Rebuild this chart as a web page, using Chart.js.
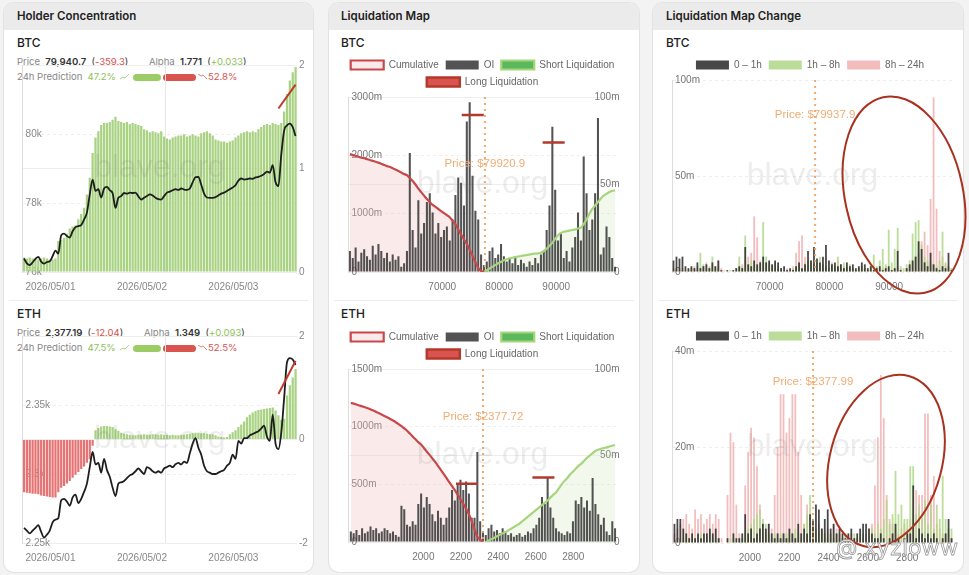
<!DOCTYPE html>
<html>
<head>
<meta charset="utf-8">
<title>Holder Concentration / Liquidation Map</title>
<script src="https://cdn.jsdelivr.net/npm/chart.js@4.4.1/dist/chart.umd.min.js"></script>
<style>
  html, body { margin: 0; padding: 0; }
  body { width: 969px; height: 575px; background: #f3f3f3; position: relative; overflow: hidden;
         font-family: Inter, "Liberation Sans", Arial, sans-serif; color: #222; }
  .card { position: absolute; top: 3px; height: 569px; background: #fff; border-radius: 10px; box-shadow: 0 0 0 1px #e3e3e3; }
  .hd { height: 27px; line-height: 27px; background: #ebebeb; border-radius: 10px 10px 0 0; font-size: 11.5px; font-weight: 600; padding-left: 13px; }
  .sep { position: absolute; left: 5px; right: 5px; top: 297px; height: 1px; background: #ececec; }
  .coin { position: absolute; font-size: 12px; font-weight: 500; line-height: 14px; }
  .tx { position: absolute; font-size: 9.6px; line-height: 12px; white-space: nowrap; color: #888; letter-spacing: -0.05px; }
  .dk { color: #333; font-weight: 600; }
  .br { color: #333; }
  .up { color: #8fc25a; }
  .dn { color: #d9534f; }
  .pill { position: absolute; height: 7px; border-radius: 4px; }
  canvas { position: absolute; }
  .tag { position: absolute; left: 836px; top: 534px; font-size: 22px; color: #fff; -webkit-text-stroke: 0.8px #9a9a9a; letter-spacing: 0.5px; }
</style>
</head>
<body>

<div class="card" style="left:4px;width:309px"><div class="hd">Holder Concentration</div><div class="sep"></div></div>
<div class="card" style="left:329px;width:310px"><div class="hd" style="padding-left:12px">Liquidation Map</div><div class="sep"></div></div>
<div class="card" style="left:653px;width:310px"><div class="hd">Liquidation Map Change</div><div class="sep"></div></div>

<div class="coin" style="left:17px;top:36px">BTC</div>
<div class="tx" style="left:17px;top:56px">Price&nbsp; <span class="dk">79,940.7</span>&nbsp; <span class="br">(<span class="dn">-359.3</span>)</span></div>
<div class="tx" style="left:149px;top:56px">Alpha&nbsp; <span class="dk">1.771</span>&nbsp; <span class="br">(<span class="up">+0.033</span>)</span></div>
<div class="tx" style="left:17px;top:71px">24h Prediction&nbsp; <span class="up">47.2%</span></div>
<svg style="position:absolute;left:120px;top:74px" width="9" height="6"><polyline points="0,5 3,3 5,4 9,0" fill="none" stroke="#a9d283" stroke-width="1"/></svg>
<div class="pill" style="left:133px;top:74px;width:28px;background:#9ccc65"></div>
<div class="pill" style="left:163px;top:74px;width:33px;background:#d9534f"></div>
<svg style="position:absolute;left:198px;top:74px" width="9" height="6"><polyline points="0,0 3,2 5,1 9,5" fill="none" stroke="#e08080" stroke-width="1"/></svg>
<div class="tx dn" style="left:208px;top:71px">52.8%</div>

<div class="coin" style="left:17px;top:307px">ETH</div>
<div class="tx" style="left:17px;top:327px">Price&nbsp; <span class="dk">2,377.19</span>&nbsp; <span class="br">(<span class="dn">-12.04</span>)</span></div>
<div class="tx" style="left:144px;top:327px">Alpha&nbsp; <span class="dk">1.349</span>&nbsp; <span class="br">(<span class="up">+0.093</span>)</span></div>
<div class="tx" style="left:17px;top:342px">24h Prediction&nbsp; <span class="up">47.5%</span></div>
<svg style="position:absolute;left:120px;top:345px" width="9" height="6"><polyline points="0,5 3,3 5,4 9,0" fill="none" stroke="#a9d283" stroke-width="1"/></svg>
<div class="pill" style="left:133px;top:345px;width:28px;background:#9ccc65"></div>
<div class="pill" style="left:163px;top:345px;width:33px;background:#d9534f"></div>
<svg style="position:absolute;left:198px;top:345px" width="9" height="6"><polyline points="0,0 3,2 5,1 9,5" fill="none" stroke="#e08080" stroke-width="1"/></svg>
<div class="tx dn" style="left:208px;top:342px">52.5%</div>

<div class="coin" style="left:341px;top:36px">BTC</div>
<div class="coin" style="left:341px;top:307px">ETH</div>
<div class="coin" style="left:666px;top:36px">BTC</div>
<div class="coin" style="left:666px;top:307px">ETH</div>

<canvas id="hcBtc" width="295" height="240" style="left:15px;top:56px"></canvas>
<canvas id="hcEth" width="295" height="240" style="left:15px;top:327px"></canvas>
<canvas id="lmBtc" width="295" height="243" style="left:335px;top:53px"></canvas>
<canvas id="lmEth" width="295" height="241" style="left:335px;top:325px"></canvas>
<canvas id="lcBtc" width="292" height="243" style="left:667px;top:53px"></canvas>
<canvas id="lcEth" width="292" height="242" style="left:667px;top:324px"></canvas>

<svg width="969" height="575" style="position:absolute;left:0;top:0;pointer-events:none">
  <ellipse cx="904" cy="195" rx="59" ry="100" transform="rotate(-12 904 195)" fill="none" stroke="#a8321f" stroke-width="2"/>
  <ellipse cx="886" cy="461" rx="56" ry="88" transform="rotate(15 886 461)" fill="none" stroke="#a8321f" stroke-width="2"/>
</svg>
<div class="tag">@ xyzloww</div>

<script>
// ---- Holder Concentration (45 min bars, 2026/04/30 10:30 onwards)
const hcDays = ['2026/05/01', '2026/05/02', '2026/05/03'];
const hcStart = Date.UTC(2026, 3, 30, 10, 30);
const hcStepMin = 45;

const btcHcPrice = [76390,76250,76200,76280,76380,76440,76300,76240,76290,76310,
  76460,76620,76530,77060,77110,77040,77000,77180,77300,77330,
  77360,77520,77720,78250,78680,78350,78400,78160,78420,78470,
  78370,78280,77860,78150,78200,78290,78270,78300,78290,78300,
  78190,78100,78150,78200,78250,78220,78150,78110,78100,78200,
  78300,78330,78370,78400,78380,78420,78390,78380,78420,78600,
  78750,78760,78530,78270,78160,78150,78150,78170,78220,78270,
  78300,78350,78400,78450,78520,78650,78710,78680,78690,78710,
  78700,78740,78760,78790,78840,78910,78880,79100,78600,78490,
  79400,80100,80250,80300,80200,79940];
const btcHcBars = [0.14,0.13,0.14,0.13,0.13,0.12,0.13,0.14,0.13,0.12,
  0.12,0.13,0.30,0.31,0.33,0.37,0.42,0.44,0.45,0.51,
  0.56,0.62,0.75,0.91,1.15,1.30,1.36,1.42,1.44,1.44,
  1.45,1.47,1.50,1.46,1.45,1.44,1.45,1.43,1.44,1.43,
  1.42,1.41,1.38,1.37,1.35,1.36,1.35,1.34,1.36,1.31,
  1.29,1.28,1.30,1.31,1.32,1.32,1.33,1.31,1.32,1.33,
  1.32,1.31,1.34,1.35,1.36,1.34,1.32,1.28,1.27,1.26,
  1.26,1.25,1.26,1.27,1.30,1.32,1.34,1.35,1.36,1.35,
  1.36,1.35,1.38,1.40,1.42,1.43,1.42,1.44,1.43,1.42,
  1.44,1.55,1.72,1.85,1.93,1.98];
const btcPredIdx = [89, 95];
const btcPredVal = [80740, 81430];

const ethHcPrice = [2261,2259,2257,2259,2261,2263,2258,2254,2256,2259,
  2265,2267,2268,2281,2282,2280,2277,2283,2285,2279,
  2282,2287,2293,2305,2316,2307,2308,2301,2311,2303,
  2298,2290,2284,2293,2294,2295,2297,2299,2300,2302,
  2304,2302,2300,2305,2304,2302,2301,2302,2301,2304,
  2305,2306,2305,2307,2308,2307,2309,2308,2315,2322,
  2326,2319,2314,2306,2302,2301,2300,2300,2301,2302,
  2303,2306,2308,2314,2311,2324,2322,2326,2326,2328,
  2329,2330,2331,2333,2335,2327,2324,2343,2322,2318,
  2330,2355,2381,2384,2383,2379];
const ethHcBars = [-1.02,-1.03,-1.04,-1.05,-1.05,-1.06,-1.08,-1.09,-1.10,-1.11,
  -1.12,-1.12,-1.02,-0.93,-0.90,-0.85,-0.80,-0.74,-0.68,-0.63,
  -0.57,-0.52,-0.45,-0.38,-0.12,0.18,0.22,0.25,0.26,0.26,
  0.25,0.24,0.20,0.17,0.13,0.11,0.10,0.09,0.08,0.08,
  0.09,0.09,0.10,0.09,0.09,0.10,0.10,0.09,0.10,0.09,
  0.09,0.08,0.09,0.08,0.08,0.09,0.09,0.10,0.11,0.12,
  0.13,0.13,0.12,0.12,0.11,0.10,0.10,0.08,0.06,0.05,
  0.04,0.05,0.10,0.14,0.18,0.24,0.29,0.35,0.43,0.48,
  0.52,0.55,0.57,0.58,0.59,0.60,0.61,0.62,0.56,0.47,
  0.38,0.40,0.85,1.05,1.20,1.36];
const ethPredIdx = [89, 95];
const ethPredVal = [2358, 2382];

// ---- Liquidation Map (price bins)
const btcBinStart = 56000, btcBinStep = 500;
const btcTicks = [70000, 80000, 90000];
const btcPrice = 79920.9;
const btcOi = [12,8,14,6,11,13,9,7,15,10,
  16,12,8,11,6,10,7,9,3,5,
  12,68,24,14,41,22,28,40,45,34,
  22,28,20,24,26,18,30,44,54,51,
  38,86,97,55,35,30,10,4,6,12,
  14,8,10,16,9,6,8,5,9,4,
  7,5,3,6,4,8,5,10,12,24,
  38,83,47,18,22,8,12,6,14,20,
  34,18,66,45,24,30,45,88,10,14,
  26,20,8,3];
const btcLongCum = [2020,2005,1990,1975,1960,1950,1935,1920,1905,1890,
  1875,1855,1835,1815,1800,1780,1755,1730,1705,1680,
  1660,1610,1560,1500,1430,1370,1310,1250,1200,1150,
  1115,1080,1045,1010,975,940,880,820,730,640,
  560,480,380,280,170,70,20,0];
const btcShortFrom = 47;
const btcShortCum = [0,30,60,90,120,150,175,200,220,235,
  245,255,265,275,285,290,300,310,315,320,
  330,360,400,450,500,570,630,670,690,700,
  710,720,730,745,760,820,900,1000,1080,1140,
  1200,1260,1310,1340,1370,1390,1400];
const btcMarkX = [77790, 91980];
const btcMarkY = [2690, 2220];

const ethBinStart = 1665, ethBinStep = 15;
const ethTicks = [2000, 2200, 2400, 2600, 2800];
const ethPrice = 2377.72;
const ethOi = [6,5,7,4,8,5,6,9,7,8,5,6,8,7,5,6,4,3,
  21,19,10,9,12,10,22,28,20,26,
  22,16,12,18,14,10,14,20,30,24,
  34,36,30,35,28,14,14,52,12,6,
  4,8,10,6,7,5,8,6,4,5,
  3,4,5,3,4,6,5,8,10,14,
  26,22,37,20,14,8,6,5,4,6,
  5,12,24,22,26,20,24,18,37,22,
  16,10,14,6,4,12,8];
const ethLongCum = [1205,1200,1192,1184,1176,1168,1160,1150,1140,1128,
  1117,1105,1093,1080,1067,1053,1038,1022,1005,985,
  965,940,915,890,865,845,815,785,755,725,
  695,660,625,590,555,520,485,450,410,370,
  330,290,240,180,110,45,20,5];
const ethShortFrom = 48;
const ethShortCum = [0,12,25,37,50,62,75,87,100,115,
  130,145,160,180,200,220,240,260,280,300,
  320,340,360,385,410,430,465,500,530,555,
  585,610,635,660,680,705,730,750,770,790,
  800,808,815,820,828,835,840];
const ethMarkX = [2292, 2700];
const ethMarkY = [505, 560];

// ---- Liquidation Map Change
const chgLabels = ['0 \u2013 1h', '1h \u2013 8h', '8h \u2013 24h'];
const btcChgPrice = 79937.9;
const btcChg1h = [6,8,7,8,3,2,3,2,5,2, 3,4,2,5,3,6,1,0,1,0, 1,2,3,2,13,4,3,6,4,5,
  8,5,6,4,6,5,2,3,1,2, 1,3,5,2,4,11,6,13,7,5, 8,14,6,4,5,3,4,2,5,3,
  4,2,3,5,4,2,3,1,2,3, 1,2,3,1,2,11,1,0,2,4, 6,8,16,12,5,3,10,4,2,1, 3,2,10,1];
const btcChg8h = [2,1,2,1,0,1,2,1,3,10, 4,2,3,8,2,3,1,0,0,1, 0,2,8,3,19,4,6,5,3,4,
  26,8,5,3,4,2,1,0,1,0, 2,3,4,2,5,4,6,3,5,8, 4,3,2,4,3,8,2,5,3,4,
  2,1,2,3,2,1,4,9,3,6, 12,4,22,5,12,23,3,2,4,6, 20,26,27,14,8,6,5,4,3,6, 21,4,3,2];
const btcChg24h = [1,2,1,2,1,1,2,3,1,2, 3,5,2,4,3,6,2,1,0,0, 1,0,2,4,6,8,10,29,18,6,
  5,4,3,4,5,3,2,1,2,1, 3,10,16,19,8,6,5,4,3,2, 4,3,2,5,3,6,4,3,2,3,
  2,1,2,3,2,1,2,1,2,1, 2,3,2,1,2,3,2,1,2,3, 5,8,10,16,21,14,38,91,33,11, 8,5,3,2];

const ethChgPrice = 2377.99;
const ethChg1h = [4,5,5,3,2,1,2,1,2,1, 2,2,3,2,3,1,0,0,1,0, 2,1,1,2,6,2,3,1,2,3,
  4,3,4,2,1,2,1,2,1,3, 2,1,4,2,3,2,6,5,8,7, 3,5,7,3,4,2,3,2,1,2,
  3,1,2,3,4,4,3,2,1,1, 2,1,0,1,2,4,1,0,1,2, 2,12,1,3,2,1,2,1,2,1, 0,1,2,5,1];
const ethChg8h = [0,1,0,1,2,1,2,1,1,2, 1,1,2,1,1,1,0,0,0,1, 1,0,1,1,2,3,4,5,6,7,
  5,4,2,1,2,1,2,1,2,1, 2,3,2,1,4,6,10,4,3,2, 3,2,1,2,1,2,1,1,2,1,
  1,2,1,1,2,1,2,3,2,4, 3,5,9,4,6,15,6,8,5,5, 16,16,6,8,5,9,4,8,3,8, 5,14,5,3,3];
const ethChg24h = [2,3,4,5,6,4,3,7,5,6, 4,5,6,4,6,5,1,0,10,23, 21,8,2,1,12,19,24,22,16,8,
  3,2,4,3,10,20,31,31,23,26, 31,31,19,10,4,8,5,3,2,4, 3,2,3,2,4,3,2,1,2,1,
  2,1,1,2,1,2,3,4,12,22, 35,26,10,5,4,3,2,3,4,3, 5,6,11,10,10,27,27,10,14,4, 3,2,1,2,1];

// ---- helpers
function pad(n) { return String(n).padStart(2, '0'); }
const hcLabels = btcHcPrice.map(function(v, i) {
  const d = new Date(hcStart + i * hcStepMin * 60000);
  return d.getUTCFullYear() + '/' + pad(d.getUTCMonth() + 1) + '/' + pad(d.getUTCDate()) + ' ' + pad(d.getUTCHours()) + ':' + pad(d.getUTCMinutes());
});

const tickFont = { family: '"Liberation Sans", Arial, sans-serif', size: 10 };
const tickColor = '#888';
const legendOpts = { labels: { boxWidth: 33, boxHeight: 9, padding: 7, color: '#666', font: tickFont,
  sort: function(a, b) { return a.datasetIndex - b.datasetIndex; } } };

const watermark = {
  id: 'watermark',
  afterDatasetsDraw(chart) {
    const { ctx, chartArea: a } = chart;
    ctx.save();
    ctx.font = '32px "Liberation Sans", Arial, sans-serif';
    ctx.fillStyle = 'rgba(110,110,110,0.12)';
    ctx.textAlign = 'center';
    ctx.textBaseline = 'middle';
    ctx.fillText('blave.org', (a.left + a.right) / 2, (a.top + a.bottom) / 2);
    ctx.restore();
  }
};

const priceLine = {
  id: 'priceLine',
  afterDraw(chart, args, opts) {
    const { ctx, chartArea: a } = chart;
    const x = chart.scales.x.getPixelForValue(opts.value);
    ctx.save();
    ctx.strokeStyle = 'rgba(238,160,95,0.9)';
    ctx.lineWidth = 2;
    ctx.setLineDash([2, 4]);
    ctx.beginPath();
    ctx.moveTo(x, a.top);
    ctx.lineTo(x, a.bottom);
    ctx.stroke();
    ctx.setLineDash([]);
    ctx.font = '11.5px "Liberation Sans", Arial, sans-serif';
    ctx.fillStyle = '#f0ac74';
    ctx.textAlign = 'center';
    ctx.textBaseline = 'middle';
    ctx.fillText('Price: $' + opts.value, x, a.top + opts.dy);
    ctx.restore();
  }
};

function priceAxis(o, xh) {
  return {
    type: 'linear', min: o.min, max: o.max, offset: false,
    grid: { display: false, drawTicks: false, offset: false }, border: { display: false },
    afterBuildTicks: function(s) { s.ticks = o.ticks.map(function(v) { return { value: v }; }); },
    ticks: { autoSkip: false, maxRotation: 0, align: 'start', padding: 9, color: '#777', font: tickFont,
      callback: function(v) { return String(v); } },
    afterFit: function(s) { s.height = xh; }
  };
}

function holderChart(id, o) {
  const pred = hcLabels.map(function() { return null; });
  o.predIdx.forEach(function(k, j) { pred[k] = o.predVal[j]; });
  const midDay = hcDays[1] + ' 00:00';
  return new Chart(document.getElementById(id), {
    type: 'bar',
    data: {
      labels: hcLabels,
      datasets: [
        { type: 'line', label: 'Prediction', data: pred, yAxisID: 'y', borderColor: '#c0392b', borderWidth: 2,
          pointRadius: 0, spanGaps: true, order: 0 },
        { type: 'line', label: 'Price', data: o.price, yAxisID: 'y', borderColor: '#1e1e1e', borderWidth: 1.8,
          pointRadius: 0, cubicInterpolationMode: 'monotone', order: 1 },
        { type: 'bar', label: 'Concentration', data: o.bars, yAxisID: 'y1',
          backgroundColor: function(c) { return c.raw < 0 ? '#e57373' : '#a9d283'; },
          barPercentage: 0.78, categoryPercentage: 1, order: 2 }
      ]
    },
    options: {
      responsive: false,
      animation: false,
      layout: { padding: { top: 6 } },
      plugins: { legend: { display: false }, tooltip: { enabled: false } },
      scales: {
        x: {
          grid: { drawTicks: false, color: function(c) { return (c.tick && hcLabels[c.tick.value] === midDay) ? '#e6e6e6' : 'rgba(0,0,0,0)'; } },
          border: { display: false },
          ticks: { autoSkip: false, maxRotation: 0, align: 'end', padding: 9, color: tickColor, font: tickFont,
            callback: function(v) { const l = hcLabels[v]; return l.endsWith('00:00') ? l.slice(0, 10) : ''; } },
          afterFit: function(s) { s.height = 24; }
        },
        y: {
          position: 'left', min: o.yMin, max: o.yMax,
          ticks: { stepSize: o.yStep, mirror: true, padding: 3, color: tickColor, font: tickFont,
            callback: function(v) { return v >= o.yMax ? '' : (v / 1000) + 'k'; } },
          grid: { color: '#eee', drawTicks: false },
          border: { display: true, dash: [3, 3], color: '#ddd' },
          afterFit: function(s) { s.width = 5; }
        },
        y1: {
          position: 'right', min: o.rMin, max: o.rMax,
          ticks: { stepSize: o.rStep, padding: 2, color: tickColor, font: tickFont },
          grid: { color: '#eee', drawTicks: false },
          border: { display: false },
          afterFit: function(s) { s.width = 13; }
        }
      }
    },
    plugins: [watermark]
  });
}

function liqChart(id, o) {
  const xAt = function(i) { return o.start + o.step * i + o.step / 2; };
  const pts = function(arr, off) { return arr.map(function(v, i) { return { x: xAt(i + off), y: v }; }); };
  return new Chart(document.getElementById(id), {
    type: 'bar',
    data: {
      datasets: [
        { type: 'line', label: 'Cumulative', data: pts(o.longCum, 0), yAxisID: 'y',
          borderColor: '#c8474a', borderWidth: 2.2, backgroundColor: 'rgba(242,185,185,0.3)',
          fill: 'origin', pointRadius: 0, tension: 0.2, order: 2 },
        { type: 'bar', label: 'OI', data: pts(o.oi, 0), yAxisID: 'y1',
          backgroundColor: 'rgba(45,45,45,0.82)', barPercentage: 0.72, categoryPercentage: 1, order: 3 },
        { type: 'line', label: 'Short Liquidation', data: pts(o.shortCum, o.shortFrom), yAxisID: 'y',
          borderColor: '#a6d57c', borderWidth: 2.2, backgroundColor: '#5cb85c',
          fill: { target: 'origin', above: 'rgba(190,225,160,0.2)' }, pointRadius: 0, tension: 0.2, order: 2 },
        { type: 'scatter', label: 'Long Liquidation', data: o.markX.map(function(x, i) { return { x: x, y: o.markY[i] }; }), yAxisID: 'y',
          backgroundColor: '#d9534f', borderColor: '#b3392c', borderWidth: 2.5, pointStyle: 'line', pointRadius: 11, order: 0 }
      ]
    },
    options: {
      responsive: false,
      animation: false,
      plugins: {
        legend: legendOpts,
        tooltip: { enabled: false },
        filler: { drawTime: 'beforeDatasetsDraw' },
        priceLine: { value: o.price, dy: o.labelDy }
      },
      scales: {
        x: priceAxis(o, 24),
        y: {
          position: 'left', min: 0, max: o.yMax,
          ticks: { stepSize: o.yStep, mirror: true, padding: 3, color: '#777', font: tickFont,
            callback: function(v) { return v === 0 ? '0' : v + 'm'; } },
          grid: { color: '#eee', drawTicks: false },
          border: { display: true, dash: [3, 3], color: '#ddd' },
          afterFit: function(s) { s.width = 12; }
        },
        y1: {
          position: 'right', min: 0, max: 100,
          ticks: { stepSize: 50, mirror: true, padding: 3, color: '#777', font: tickFont,
            callback: function(v) { return v === 0 ? '0' : v + 'm'; } },
          grid: { color: '#eee', drawTicks: false },
          border: { display: false },
          afterFit: function(s) { s.width = 8; }
        }
      }
    },
    plugins: [watermark, priceLine]
  });
}

function changeChart(id, o) {
  const pts = function(arr) { return arr.map(function(v, i) { return { x: o.start + o.step * i + o.step / 2, y: v }; }); };
  const bar = { type: 'bar', barPercentage: 0.6, categoryPercentage: 1, grouped: false };
  return new Chart(document.getElementById(id), {
    type: 'bar',
    data: {
      datasets: [
        Object.assign({ label: chgLabels[0], data: pts(o.h1), backgroundColor: 'rgba(40,40,40,0.85)', order: 1 }, bar),
        Object.assign({ label: chgLabels[1], data: pts(o.h8), backgroundColor: 'rgba(175,215,135,0.85)', order: 2 }, bar),
        Object.assign({ label: chgLabels[2], data: pts(o.h24), backgroundColor: 'rgba(240,172,172,0.8)', order: 3 }, bar)
      ]
    },
    options: {
      responsive: false,
      animation: false,
      layout: { padding: { right: 6 } },
      plugins: {
        legend: legendOpts,
        tooltip: { enabled: false },
        priceLine: { value: o.price, dy: o.labelDy }
      },
      scales: {
        x: priceAxis(o, o.xh),
        y: {
          position: 'left', min: 0, max: o.yMax,
          ticks: { stepSize: o.yStep, mirror: true, padding: 3, color: '#777', font: tickFont,
            callback: function(v) { return v === 0 ? '0' : v + 'm'; } },
          grid: { color: '#eee', drawTicks: false },
          border: { display: true, dash: [3, 3], color: '#ddd' },
          afterFit: function(s) { s.width = 5; }
        }
      }
    },
    plugins: [watermark, priceLine]
  });
}

holderChart('hcBtc', { price: btcHcPrice, bars: btcHcBars, predIdx: btcPredIdx, predVal: btcPredVal,
  yMin: 76000, yMax: 82000, yStep: 2000, rMin: 0, rMax: 2, rStep: 1 });
holderChart('hcEth', { price: ethHcPrice, bars: ethHcBars, predIdx: ethPredIdx, predVal: ethPredVal,
  yMin: 2250, yMax: 2400, yStep: 50, rMin: -2, rMax: 2, rStep: 2 });

liqChart('lmBtc', { start: btcBinStart, step: btcBinStep, min: 56000, max: 103000, ticks: btcTicks,
  oi: btcOi, longCum: btcLongCum, shortCum: btcShortCum, shortFrom: btcShortFrom,
  markX: btcMarkX, markY: btcMarkY, price: btcPrice, labelDy: 67, yMax: 3000, yStep: 1000 });
liqChart('lmEth', { start: ethBinStart, step: ethBinStep, min: 1660, max: 3090, ticks: ethTicks,
  oi: ethOi, longCum: ethLongCum, shortCum: ethShortCum, shortFrom: ethShortFrom,
  markX: ethMarkX, markY: ethMarkY, price: ethPrice, labelDy: 48, yMax: 1500, yStep: 500 });

changeChart('lcBtc', { start: btcBinStart, step: btcBinStep, min: 56000, max: 103000, ticks: btcTicks,
  h1: btcChg1h, h8: btcChg8h, h24: btcChg24h, price: btcChgPrice, labelDy: 35, yMax: 100, yStep: 50, xh: 24 });
changeChart('lcEth', { start: ethBinStart, step: ethBinStep, min: 1660, max: 3090, ticks: ethTicks,
  h1: ethChg1h, h8: ethChg8h, h24: ethChg24h, price: ethChgPrice, labelDy: 31, yMax: 40, yStep: 20, xh: 23 });
</script>
</body>
</html>
